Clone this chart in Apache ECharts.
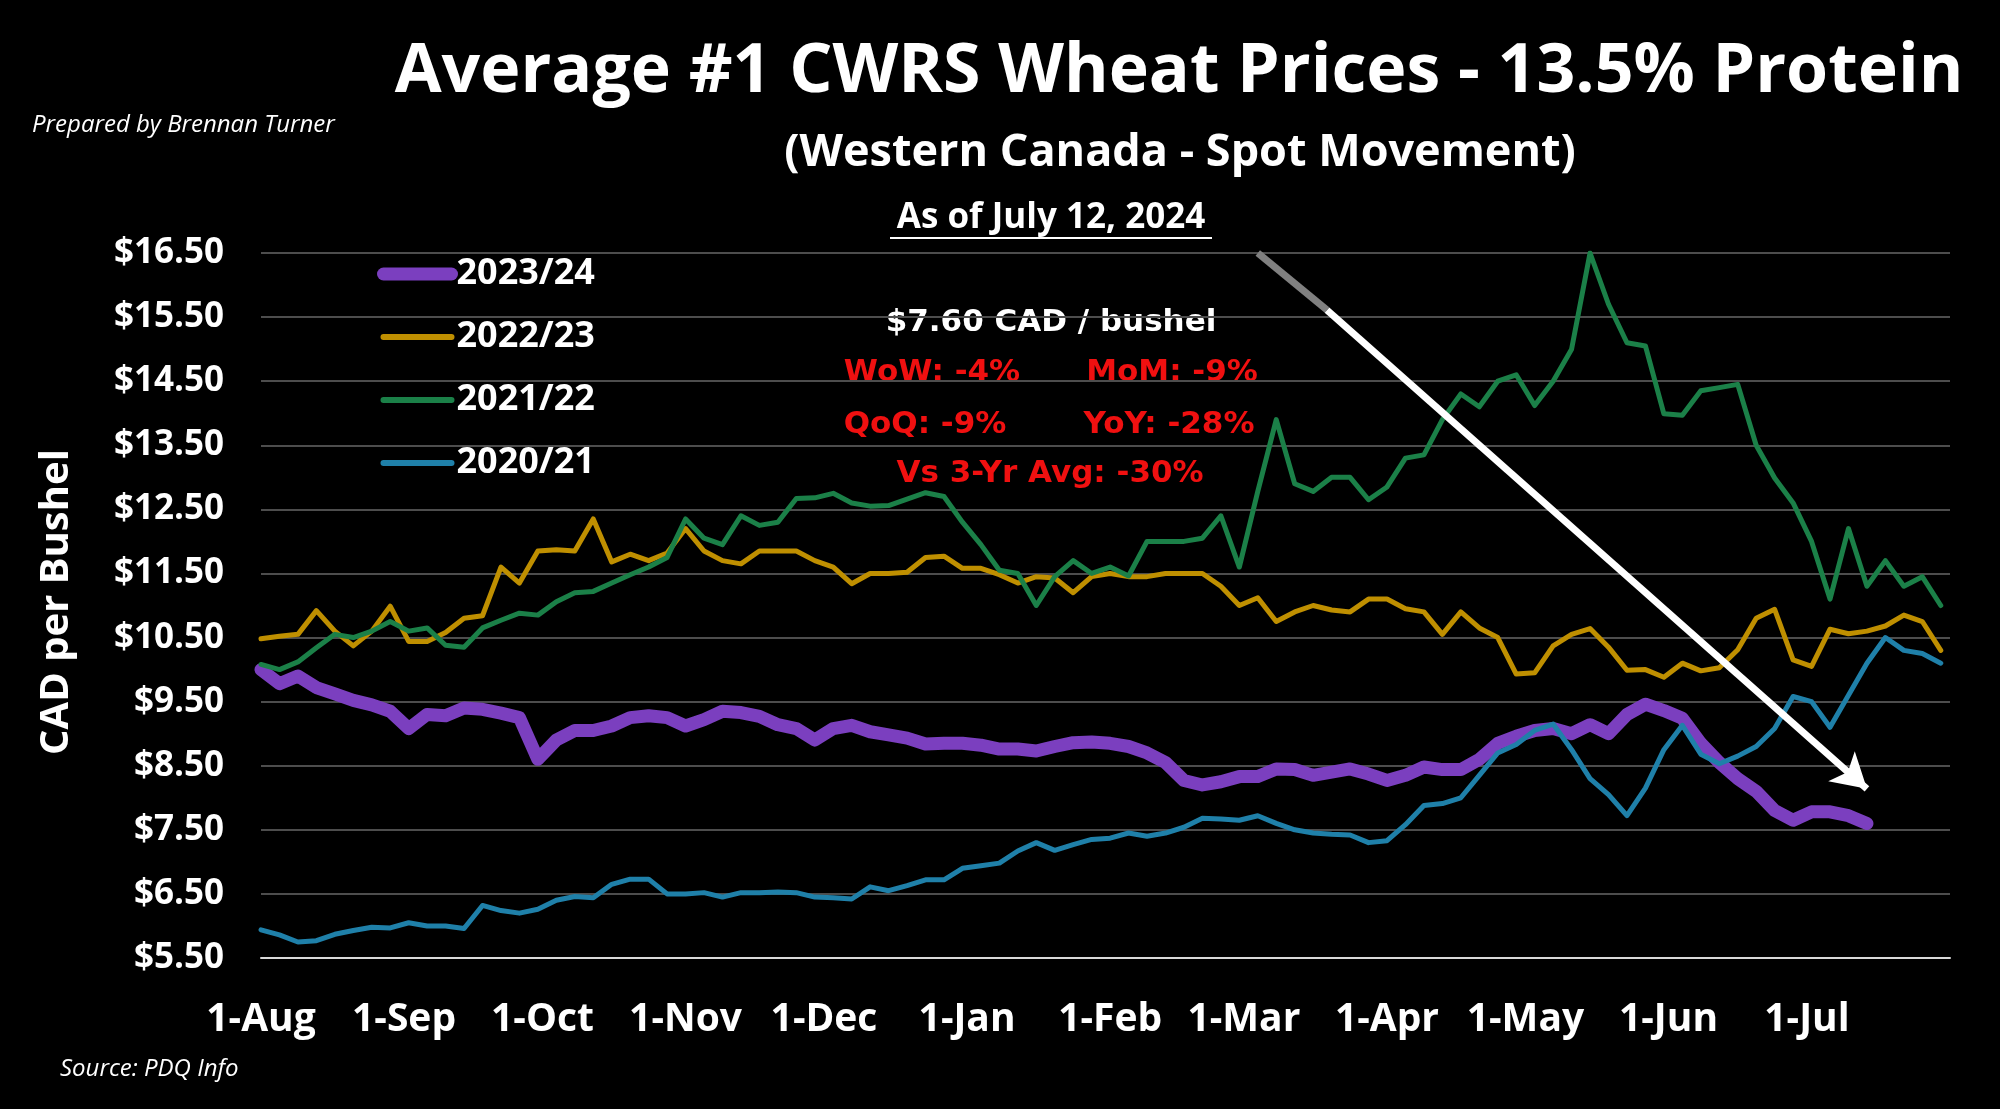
<!DOCTYPE html>
<html>
<head>
<meta charset="utf-8">
<title>Average #1 CWRS Wheat Prices - 13.5% Protein</title>
<script src="https://cdn.jsdelivr.net/npm/echarts@6/dist/echarts.min.js"></script>
<style>
html, body { margin: 0; padding: 0; background: #000; }
#container { width: 2000px; height: 1109px; }
</style>
</head>
<body>
<div id="container"></div>
<script>
// one reading every 4 days, day 0 = 1-Aug
var STEP = 4;
var monthDays = [0, 31, 61, 92, 122, 153, 184, 213, 244, 274, 305, 335];
var monthLabels = ['1-Aug', '1-Sep', '1-Oct', '1-Nov', '1-Dec', '1-Jan', '1-Feb', '1-Mar', '1-Apr', '1-May', '1-Jun', '1-Jul'];
var yTicks = [5.5, 6.5, 7.5, 8.5, 9.5, 10.5, 11.5, 12.5, 13.5, 14.5, 15.5, 16.5];
var seasons = ['2023/24', '2022/23', '2021/22', '2020/21'];
var colors = ['#7b3fbf', '#bf8f00', '#1b8048', '#1f80a9'];

var s2324 = [
  10.0, 9.78, 9.9, 9.72, 9.62, 9.52, 9.45, 9.35, 9.08, 9.3,
  9.28, 9.4, 9.38, 9.32, 9.25, 8.6, 8.9, 9.05, 9.05, 9.12,
  9.25, 9.28, 9.25, 9.12, 9.22, 9.35, 9.33, 9.27, 9.14, 9.08,
  8.9, 9.08, 9.13, 9.03, 8.98, 8.93, 8.84, 8.85, 8.85, 8.82,
  8.76, 8.76, 8.73, 8.8, 8.86, 8.87, 8.85, 8.8, 8.7, 8.55,
  8.27, 8.2, 8.25, 8.33, 8.33, 8.45, 8.44, 8.35, 8.4, 8.45,
  8.37, 8.27, 8.35, 8.48, 8.44, 8.44, 8.6, 8.85, 8.96, 9.05,
  9.08, 9.0, 9.14, 9.0, 9.3, 9.46, 9.36, 9.24, 8.85, 8.55,
  8.3, 8.1, 7.8, 7.65, 7.78, 7.78, 7.72, 7.6
];
var s2223 = [
  10.48, 10.52, 10.55, 10.92, 10.6, 10.37, 10.6, 10.99, 10.44, 10.44,
  10.58, 10.8, 10.84, 11.6, 11.35, 11.85, 11.87, 11.85, 12.35, 11.68,
  11.8, 11.7, 11.82, 12.2, 11.85, 11.7, 11.65, 11.85, 11.85, 11.85,
  11.7, 11.6, 11.34, 11.5, 11.5, 11.52, 11.75, 11.77, 11.58, 11.58,
  11.48, 11.35, 11.45, 11.43, 11.2, 11.45, 11.5, 11.45, 11.45, 11.5,
  11.5, 11.5, 11.3, 11.0, 11.12, 10.75, 10.9, 11.0, 10.93, 10.9,
  11.1, 11.1, 10.95, 10.9, 10.55, 10.9, 10.65, 10.5, 9.93, 9.95,
  10.37, 10.55, 10.64, 10.35, 9.99, 10.0, 9.88, 10.1, 9.98, 10.03,
  10.31, 10.8, 10.94, 10.15, 10.05, 10.63, 10.56, 10.6, 10.68, 10.85,
  10.75, 10.3
];
var s2122 = [
  10.08, 10.0, 10.12, 10.34, 10.55, 10.5, 10.6, 10.75, 10.6, 10.65,
  10.38, 10.35, 10.65, 10.77, 10.88, 10.85, 11.06, 11.2, 11.22, 11.35,
  11.48, 11.6, 11.75, 12.35, 12.05, 11.95, 12.4, 12.25, 12.3, 12.67,
  12.68, 12.75, 12.6, 12.55, 12.56, 12.66, 12.76, 12.7, 12.3, 11.95,
  11.55, 11.5, 11.0, 11.45, 11.7, 11.5, 11.6, 11.46, 12.0, 12.0,
  12.0, 12.05, 12.4, 11.6, 12.78, 13.9, 12.9, 12.78, 13.0, 13.0,
  12.65, 12.85, 13.3, 13.35, 13.9, 14.3, 14.1, 14.5, 14.6, 14.12,
  14.5, 15.0, 16.5, 15.7, 15.1, 15.05, 13.99, 13.97, 14.35, 14.4,
  14.45, 13.5, 12.99, 12.6, 12.0, 11.1, 12.2, 11.3, 11.7, 11.3,
  11.45, 11.0
];
var s2021 = [
  5.94, 5.86, 5.75, 5.77, 5.87, 5.93, 5.98, 5.97, 6.05, 6.0,
  6.0, 5.96, 6.32, 6.24, 6.2, 6.26, 6.4, 6.46, 6.44, 6.65,
  6.73, 6.73, 6.5, 6.5, 6.52, 6.45, 6.52, 6.52, 6.53, 6.52,
  6.45, 6.44, 6.42, 6.61, 6.55, 6.63, 6.72, 6.72, 6.9, 6.94,
  6.98, 7.17, 7.3, 7.18, 7.27, 7.35, 7.37, 7.45, 7.4, 7.45,
  7.54, 7.68, 7.67, 7.65, 7.72, 7.6, 7.5, 7.45, 7.43, 7.42,
  7.3, 7.33, 7.58, 7.88, 7.91, 8.0, 8.35, 8.7, 8.83, 9.05,
  9.15, 8.75, 8.3, 8.05, 7.72, 8.15, 8.75, 9.13, 8.68, 8.53,
  8.65, 8.8, 9.08, 9.58, 9.5, 9.1, 9.6, 10.1, 10.5, 10.3,
  10.25, 10.1
];

// trend arrow, in [day, price]
var arrowGray = [[216, 16.5], [231, 15.61]];
var arrowWhite = [[231, 15.61], [348, 8.14]];

var calibri = '"Open Sans", "Lato", sans-serif';
var verdana = '"DejaVu Sans", sans-serif';

function toPoints(values) {
  var pts = [];
  for (var i = 0; i < values.length; i++) {
    pts.push([i * STEP, values[i]]);
  }
  return pts;
}

function isTick(v) {
  for (var i = 0; i < yTicks.length; i++) {
    if (Math.abs(yTicks[i] - v) < 1e-6) return true;
  }
  return false;
}

function lineSeries(idx, values, width) {
  return {
    name: seasons[idx],
    type: 'line',
    data: toPoints(values),
    symbol: 'none',
    showSymbol: false,
    silent: true,
    lineStyle: { color: colors[idx], width: width, cap: 'round', join: 'round' },
    itemStyle: { color: colors[idx] }
  };
}

function legendItem(idx, width) {
  return {
    name: seasons[idx],
    itemStyle: { opacity: 0 },
    lineStyle: { color: colors[idx], width: width, cap: 'round', opacity: 1 }
  };
}

var chart = echarts.init(document.getElementById('container'));

var blue = lineSeries(3, s2021, 5);
blue.markLine = {
  silent: true,
  animation: false,
  symbol: ['none', 'arrow'],
  symbolSize: [30, 34],
  label: { show: false },
  lineStyle: { type: 'solid', width: 7 },
  data: [
    [{ coord: arrowGray[0], symbol: 'none', lineStyle: { color: '#808080', width: 7, type: 'solid' } },
     { coord: arrowGray[1], symbol: 'none' }],
    [{ coord: arrowWhite[0], symbol: 'none', lineStyle: { color: '#ffffff', width: 7, type: 'solid' } },
     { coord: arrowWhite[1], symbol: 'arrow' }]
  ]
};

var option = {
  backgroundColor: '#000',
  animation: false,
  grid: { left: 261, right: 50, top: 253, bottom: 151, containLabel: false },
  legend: {
    orient: 'vertical',
    left: 372,
    top: 249,
    itemWidth: 68,
    itemHeight: 22,
    itemGap: 23,
    selectedMode: false,
    textStyle: { color: '#fff', fontFamily: calibri, fontWeight: 'bold', fontSize: 36, lineHeight: 40 },
    data: [legendItem(0, 13), legendItem(1, 6), legendItem(2, 6), legendItem(3, 6)]
  },
  xAxis: {
    type: 'value',
    min: 0,
    max: 366,
    splitLine: { show: false },
    axisTick: { show: false },
    axisLine: { show: true, onZero: false, lineStyle: { color: '#d9d9d9', width: 2 } },
    axisLabel: {
      customValues: monthDays,
      formatter: function (v) {
        var i = monthDays.indexOf(v);
        return i >= 0 ? monthLabels[i] : '';
      },
      color: '#fff',
      fontFamily: calibri,
      fontWeight: 'bold',
      fontSize: 39,
      margin: 42
    }
  },
  yAxis: {
    type: 'value',
    min: 5.5,
    max: 16.5,
    interval: 0.5,
    axisLine: { show: false },
    axisTick: { show: false },
    splitLine: { show: true, lineStyle: { color: ['#4d4d4d', 'rgba(0,0,0,0)'], width: 2 } },
    axisLabel: {
      formatter: function (v) {
        return isTick(v) ? '$' + v.toFixed(2) : '';
      },
      color: '#fff',
      fontFamily: calibri,
      fontWeight: 'bold',
      fontSize: 35,
      margin: 37
    }
  },
  graphic: [
    { type: 'text', x: 1179, y: 73, style: { text: 'Average #1 CWRS Wheat Prices - 13.5% Protein', fill: '#fff', font: 'bold 68px ' + calibri, align: 'center', verticalAlign: 'middle' } },
    { type: 'text', x: 1180, y: 153, style: { text: '(Western Canada - Spot Movement)', fill: '#fff', font: 'bold 45px ' + calibri, align: 'center', verticalAlign: 'middle' } },
    { type: 'text', x: 1051, y: 218, style: { text: 'As of July 12, 2024', fill: '#fff', font: 'bold 35px ' + calibri, align: 'center', verticalAlign: 'middle' } },
    { type: 'line', shape: { x1: 890, y1: 238, x2: 1212, y2: 238 }, style: { stroke: '#fff', lineWidth: 2 } },
    { type: 'text', x: 32, y: 125, style: { text: 'Prepared by Brennan Turner', fill: '#fff', font: 'italic 24px ' + calibri, align: 'left', verticalAlign: 'middle' } },
    { type: 'text', x: 60, y: 1069, style: { text: 'Source: PDQ Info', fill: '#fff', font: 'italic 24px ' + calibri, align: 'left', verticalAlign: 'middle' } },
    { type: 'text', x: 57, y: 602, rotation: Math.PI / 2, style: { text: 'CAD per Bushel', fill: '#fff', font: 'bold 40px ' + calibri, align: 'center', verticalAlign: 'middle' } },
    { type: 'text', x: 1051, y: 323, style: { text: '$7.60 CAD / bushel', fill: '#fff', font: 'bold 31px ' + verdana, align: 'center', verticalAlign: 'middle' } },
    { type: 'text', x: 932, y: 373, style: { text: 'WoW: -4%', fill: '#f01010', font: 'bold 31px ' + verdana, align: 'center', verticalAlign: 'middle' } },
    { type: 'text', x: 1172, y: 373, style: { text: 'MoM: -9%', fill: '#f01010', font: 'bold 31px ' + verdana, align: 'center', verticalAlign: 'middle' } },
    { type: 'text', x: 925, y: 425, style: { text: 'QoQ: -9%', fill: '#f01010', font: 'bold 31px ' + verdana, align: 'center', verticalAlign: 'middle' } },
    { type: 'text', x: 1169, y: 425, style: { text: 'YoY: -28%', fill: '#f01010', font: 'bold 31px ' + verdana, align: 'center', verticalAlign: 'middle' } },
    { type: 'text', x: 1050, y: 474, style: { text: 'Vs 3-Yr Avg: -30%', fill: '#f01010', font: 'bold 31px ' + verdana, align: 'center', verticalAlign: 'middle' } }
  ],
  series: [
    lineSeries(0, s2324, 13),
    lineSeries(1, s2223, 5),
    lineSeries(2, s2122, 5),
    blue
  ]
};

chart.setOption(option);
</script>
</body>
</html>
